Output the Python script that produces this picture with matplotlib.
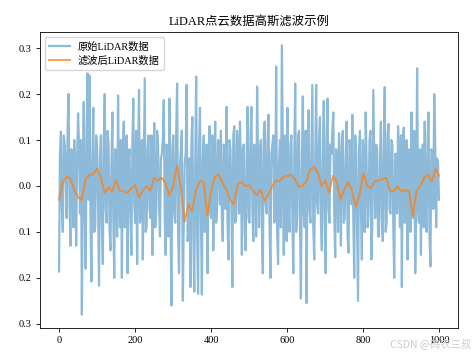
import numpy as np
import matplotlib
matplotlib.use("Agg")
from matplotlib import pyplot as plt

plt.rcParams['font.family'] = ['Liberation Serif', 'Noto Sans CJK SC', 'DejaVu Sans']

# raw lidar samples: the visible spikes ...
raw_values = [
    -0.186, 0.118, -0.10, 0.09, -0.07, 0.20, -0.13, 0.06, 0.10, -0.13,
    0.158, -0.06, -0.28, 0.183, -0.18, 0.245, 0.24, -0.208, 0.17, -0.09,
    0.08, -0.217, 0.11, -0.17, 0.20, -0.08, 0.09, -0.14, 0.16, -0.20,
    0.05, 0.197, -0.09, -0.20, 0.14, -0.06, -0.19, 0.08, -0.15, 0.19,
    -0.08, -0.17, 0.209, -0.05, -0.16, 0.234, -0.09, 0.11, -0.07, -0.15,
    0.137, -0.06, 0.09, -0.11, 0.07, 0.187, -0.15, 0.06, 0.19, -0.26,
    0.11, -0.08, 0.223, -0.19, 0.08, -0.25, 0.05, 0.22, -0.10, -0.22,
    0.15, -0.23, 0.238, -0.235, 0.17, -0.236, 0.11, -0.09, -0.19, 0.13,
    -0.07, -0.14, 0.14, -0.05, 0.09, 0.12, -0.12, 0.07, 0.172, -0.16,
    0.08, -0.22, 0.13, -0.07, 0.06, 0.14, -0.15, 0.09, -0.14, 0.172,
    -0.08, 0.172, -0.12, 0.07, 0.216, -0.09, 0.10, -0.19, 0.14, -0.06,
    0.155, -0.20, 0.09, -0.08, 0.26, -0.17, 0.10, 0.306, -0.15, 0.08,
    0.17, -0.10, 0.11, -0.19, 0.223, -0.07, 0.12, -0.245, 0.195, -0.09,
    -0.255, 0.165, -0.08, 0.22, -0.16, 0.22, -0.06, 0.15, -0.14, 0.185,
    -0.19, 0.19, -0.08, 0.07, 0.16, -0.155, 0.06, 0.115, -0.13, 0.12,
    -0.07, 0.14, -0.145, 0.08, 0.155, -0.20, 0.07, -0.25, 0.12, -0.16,
    0.06, 0.16, -0.09, 0.10, -0.16, 0.209, -0.07, 0.08, -0.11, 0.14,
    -0.12, 0.215, -0.08, 0.135, -0.06, 0.09, -0.20, 0.07, 0.13, -0.09,
    -0.22, 0.127, -0.06, -0.16, 0.08, 0.16, -0.07, -0.19, 0.256, -0.08,
    -0.15, 0.09, 0.14, -0.10, 0.16, -0.175, 0.07, 0.20, -0.09, 0.05,
]
# ... and the samples in the dense band between them
raw_inner = [
    0.07, -0.05, 0.11, 0.02, 0.12, -0.04, 0.08, -0.09, 0.03, 0.06,
    0.09, 0.10, 0.04, -0.07, 0.12, -0.03, -0.06, 0.05, -0.10, 0.11,
    -0.04, 0.06, -0.08, 0.10, -0.05, 0.12, -0.09, 0.04, -0.07, 0.08,
    -0.11, -0.03, 0.10, 0.07, -0.09, 0.11, 0.05, -0.06, 0.09, -0.04,
    0.12, 0.06, -0.08, 0.10, 0.03, -0.10, 0.08, -0.05, 0.11, 0.02,
    -0.09, 0.12, -0.04, 0.06, 0.10, -0.07, 0.09, -0.11, -0.05, 0.08,
    -0.06, 0.11, -0.10, 0.05, 0.12, -0.08, 0.07, -0.12, 0.06, 0.09,
    -0.10, 0.04, -0.11, 0.08, -0.07, 0.06, -0.10, 0.09, 0.05, -0.06,
    0.11, 0.03, -0.08, 0.10, -0.04, -0.07, 0.09, -0.05, -0.09, 0.10,
    -0.03, 0.11, -0.08, 0.12, -0.06, 0.04, 0.08, -0.10, 0.06, -0.07,
    0.10, -0.05, 0.09, -0.11, 0.05, 0.08, -0.09, 0.12, -0.04, 0.10,
    -0.08, 0.07, 0.11, -0.06, -0.10, 0.05, -0.09, 0.08, 0.11, -0.12,
    -0.05, 0.09, -0.07, 0.06, -0.10, 0.11, -0.08, 0.04, -0.06, 0.12,
    0.10, -0.05, 0.07, -0.09, 0.06, -0.04, 0.10, -0.08, 0.05, -0.07,
    0.11, -0.05, 0.09, 0.12, -0.06, 0.08, -0.10, 0.04, 0.09, -0.08,
    0.06, -0.11, 0.10, -0.04, -0.07, 0.11, -0.09, 0.08, -0.05, 0.10,
    -0.10, 0.05, -0.06, 0.12, -0.08, 0.07, 0.09, -0.11, 0.06, -0.07,
    0.08, -0.10, 0.11, -0.05, 0.10, -0.09, 0.07, -0.06, 0.04, 0.11,
    0.09, -0.08, 0.10, 0.06, -0.10, -0.05, 0.12, -0.07, -0.04, 0.08,
    0.05, -0.09, -0.06, 0.10, -0.11, 0.08, -0.05, 0.09, 0.06, -0.03,
]
raw_series = np.column_stack([raw_values, raw_inner]).ravel()
raw_index = np.linspace(0, 999, len(raw_series))

# gaussian filtered curve, sampled every 10 points
smooth_index = list(range(0, 1000, 10)) + [999]
smooth_values = [
    -0.03, 0.008, 0.02, 0.017, -0.008, -0.025, -0.03, 0.015, 0.024, 0.025,
    0.038, 0.018, -0.015, -0.003, -0.012, 0.012, -0.01, -0.012, -0.015, -0.005,
    0.002, -0.025, -0.01, 0.0, -0.01, 0.018, 0.012, 0.018, 0.005, -0.02,
    0.0, 0.045, 0.0, -0.078, -0.04, -0.055, -0.01, 0.01, 0.01, -0.065,
    -0.01, 0.02, 0.025, 0.006, -0.008, -0.03, -0.04, 0.005, 0.008, 0.0,
    0.002, -0.01, -0.02, -0.008, -0.032, -0.02, -0.002, 0.012, 0.01, 0.02,
    0.022, 0.024, 0.015, -0.002, 0.0, 0.01, 0.035, 0.042, 0.03, 0.0,
    0.012, -0.014, 0.022, 0.01, -0.03, -0.008, 0.008, -0.01, -0.045, -0.02,
    0.028, 0.0, -0.005, 0.01, 0.012, 0.015, 0.018, -0.01, -0.012, 0.0,
    -0.012, -0.01, -0.01, -0.066, -0.01, 0.0, 0.018, 0.025, 0.01, 0.038,
    0.022,
]

ytick_values = [-0.3, -0.2, -0.1, 0.0, 0.1, 0.2, 0.3]
ytick_labels = ["0.3", "0.2", "0.1", "0.0", "0.1", "0.2", "0.3"]

fig = plt.figure(figsize=(4.74, 3.52), dpi=100)
ax = fig.add_axes([0.0844, 0.0682, 0.8819, 0.8409])

ax.plot(raw_index, raw_series, color="#1f77b4", alpha=0.5, lw=1.6, label="原始LiDAR数据")
ax.plot(smooth_index, smooth_values, color="#ff7f0e", alpha=0.75, lw=1.4, label="滤波后LiDAR数据")

ax.set_xlim(-50, 1049)
ax.set_ylim(-0.309, 0.335)
ax.set_xticks([0, 200, 400, 600, 800, 1000])
ax.set_yticks(ytick_values)
ax.set_yticklabels(ytick_labels)
ax.tick_params(labelsize=7.4, length=2.6, width=0.6)
for s in ax.spines.values():
    s.set_linewidth(0.6)

ax.set_title("LiDAR点云数据高斯滤波示例", fontsize=8.9, pad=5)
ax.legend(loc="upper left", fontsize=7.4, handlelength=2.0, borderpad=0.4, labelspacing=0.4)

fig.text(0.995, 0.005, "CSDN @码农三叔", ha="right", va="bottom", fontsize=7.5,
         color="#cccccc", family=["Noto Sans CJK SC", "DejaVu Sans"])

plt.savefig("out.png", dpi=100)
